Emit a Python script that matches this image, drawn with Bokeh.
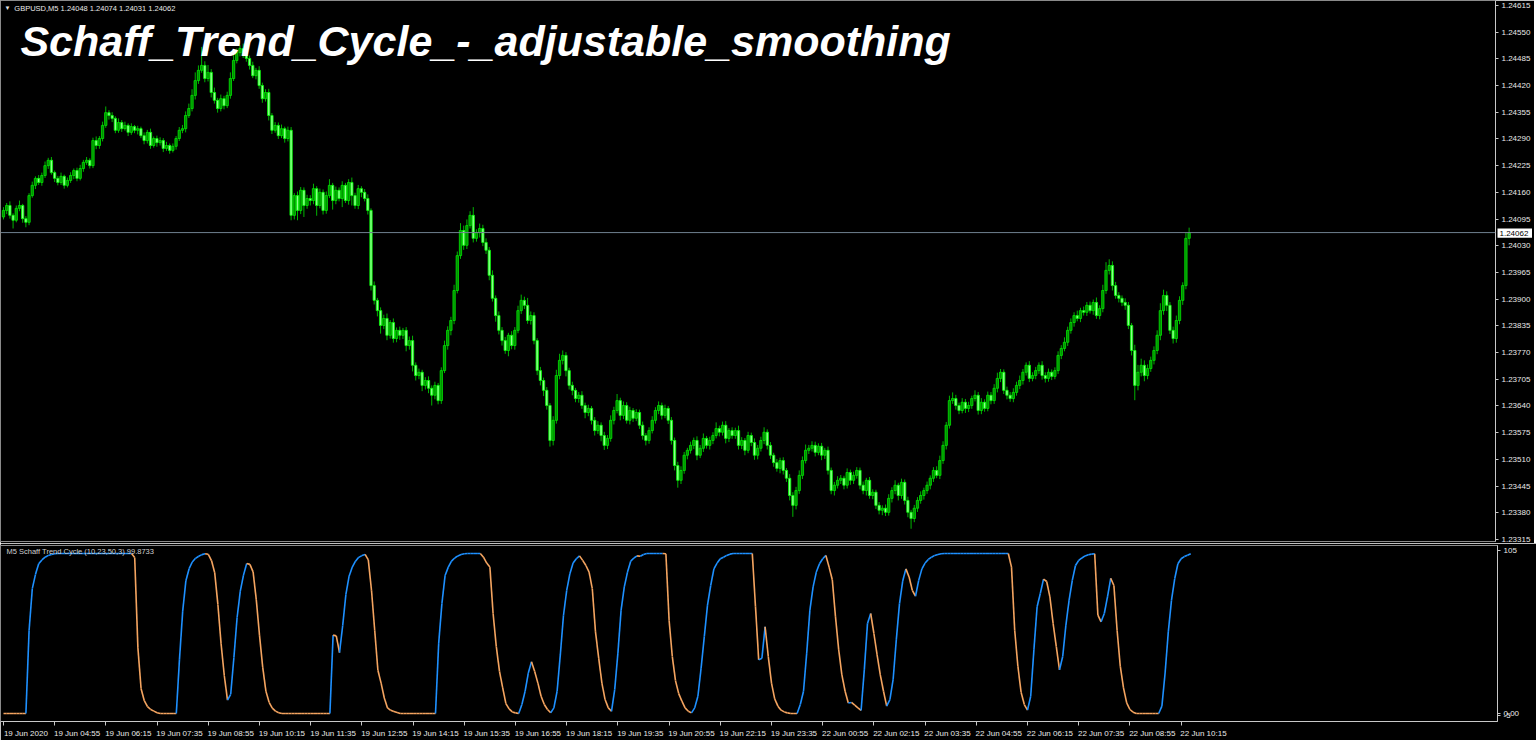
from bokeh.plotting import figure
from bokeh.layouts import column, row
from bokeh.models import Range1d, FixedTicker, NumeralTickFormatter, Label, Span
from bokeh.embed import file_html
from bokeh.resources import INLINE

# ---------------- data (prices as 1.2 + value/1e5) ----------------
OPEN = [
    4100, 4116, 4128, 4104, 4092, 4121, 4128, 4096,          # 0-7
    4087, 4152, 4177, 4194, 4184,                            # 8-12
    4201, 4225, 4238, 4208,                                  # 13-16
    4194, 4184, 4199, 4177,                                  # 17-20
    4189, 4201, 4213, 4194,                                  # 21-24
    4218, 4233, 4238,                                        # 25-27
    4225, 4286, 4274,                                        # 28-30
    4291, 4323, 4354,                                        # 31-33
    4347, 4340, 4311,                                        # 34-36
    4330, 4315, 4323, 4306, 4320, 4311,                      # 37-42
    4315, 4298, 4286, 4306, 4274, 4291,                      # 43-48
    4281, 4286, 4267, 4274, 4262,                            # 49-53
    4272, 4291, 4311,                                        # 54-56
    4315, 4347,                                              # 57-58
    4364, 4396, 4432,                                        # 59-61
    4457, 4469, 4437,                                        # 62-64
    4452, 4403, 4384, 4364, 4388, 4371,                      # 65-70
    4396, 4437,                                              # 71-72
    4481, 4500, 4510, 4493,                                  # 73-76
    4486, 4469, 4444,                                        # 77-79
    4457, 4420, 4388,                                        # 80-82
    4403, 4347, 4311,                                        # 83-85
    4323, 4298, 4315, 4291,                                  # 86-89
    4311,                                                    # 90
    4104, 4152, 4116, 4165, 4128,                            # 91-95
    4145, 4140, 4169, 4128, 4160, 4116, 4152, 4177,          # 96-103
    4140, 4165, 4145, 4177, 4140, 4184, 4152, 4128, 4169, 4160, 4145,  # 104-114
    4116,                                                    # 115
    3933, 3897,                                              # 116-117
    3872, 3836, 3853, 3812, 3843, 3804,                      # 118-123
    3824, 3812, 3824, 3787,                                  # 124-127
    3799, 3739, 3714, 3722, 3690,                            # 128-132
    3702, 3683, 3666, 3690,                                  # 133-136
    3653, 3726, 3787,                                        # 137-139
    3824, 3848, 3921,                                        # 140-142
    4006, 4067, 4031, 4079, 4104, 4048, 4062, 4072,          # 143-150
    4038, 4019, 3958,                                        # 151-153
    3902, 3860, 3824, 3799, 3775, 3812,                      # 154-159
    3787, 3824, 3872, 3897,                                  # 160-163
    3885, 3848,                                              # 164-165
    3860, 3799, 3726, 3702,                                  # 166-169
    3678, 3641, 3556, 3605, 3714, 3751, 3763, 3726,          # 170-177
    3690, 3678, 3658, 3666, 3641, 3624,                      # 178-183
    3634, 3605, 3580, 3593, 3568, 3544,                      # 184-189
    3561, 3605, 3629, 3653, 3617, 3641, 3605, 3629, 3610,    # 190-198
    3624, 3593, 3568, 3556, 3580,                            # 199-203
    3605, 3629, 3641, 3617, 3634,                            # 204-208
    3605, 3556, 3495, 3459, 3483,                            # 209-213
    3520, 3532, 3544, 3556, 3520, 3537, 3561, 3544,          # 214-221
    3556, 3568, 3585, 3576, 3593, 3561, 3580,                # 222-228
    3568, 3580, 3544, 3556, 3532, 3568, 3551, 3520,          # 229-236
    3537, 3556, 3576,                                        # 237-239
    3544, 3520, 3502, 3488, 3507, 3483,                      # 240-245
    3464, 3422, 3398,                                        # 246-248
    3434, 3471, 3507,                                        # 249-251
    3532, 3537, 3544, 3527, 3542, 3520,                      # 252-257
    3532, 3483, 3434, 3447,                                  # 258-261
    3459, 3464, 3447, 3478, 3459, 3471,                      # 262-267
    3483, 3447, 3434, 3459, 3422,                            # 268-272
    3430, 3398, 3386, 3391,                                  # 273-276
    3381, 3415, 3434, 3447, 3422,                            # 277-281
    3454, 3410, 3381, 3366,                                  # 282-285
    3391, 3410, 3422,                                        # 286-288
    3434, 3447, 3464, 3483,                                  # 289-292
    3471, 3507,                                              # 293-294
    3544, 3593,                                              # 295-296
    3653, 3658, 3641, 3629, 3649,                            # 297-301
    3634, 3641, 3658, 3666, 3629, 3649, 3634, 3666,          # 302-309
    3653, 3683, 3707,                                        # 310-312
    3722, 3678, 3666, 3658,                                  # 313-316
    3673, 3690, 3702, 3722, 3739, 3707,                      # 317-322
    3714, 3726, 3739,                                        # 323-325
    3714, 3707, 3722, 3712,                                  # 326-329
    3726, 3763, 3780,                                        # 330-332
    3795, 3824, 3843, 3860, 3853,                            # 333-337
    3872, 3868, 3885, 3872, 3892, 3860,                      # 338-343
    3877, 3921, 3970, 3982,                                  # 344-347
    3933, 3909, 3902, 3892,                                  # 348-351
    3885, 3836,                                              # 352-353
    3775, 3690, 3722, 3739, 3714, 3731,                      # 354-359
    3751, 3775,                                              # 360-361
    3812, 3872, 3909,                                        # 362-364
    3885, 3824,                                              # 365-366
    3804, 3848,                                              # 367-368
    3897, 3933, 4048,                                        # 369-371
]

CLOSE = [
    4116, 4128, 4104, 4092, 4121, 4128, 4096, 4087,
    4152, 4177, 4194, 4184, 4201,
    4225, 4238, 4208, 4194,
    4184, 4199, 4177, 4189,
    4201, 4213, 4194, 4218,
    4233, 4238, 4225,
    4286, 4274, 4291,
    4323, 4354, 4347,
    4340, 4311, 4330,
    4315, 4323, 4306, 4320, 4311, 4315,
    4298, 4286, 4306, 4274, 4291, 4281,
    4286, 4267, 4274, 4262, 4272,
    4291, 4311, 4315,
    4347, 4364,
    4396, 4432, 4457,
    4469, 4437, 4452,
    4403, 4384, 4364, 4388, 4371, 4396,
    4437, 4481,
    4500, 4510, 4493, 4486,
    4469, 4444, 4457,
    4420, 4388, 4403,
    4347, 4311, 4323,
    4298, 4315, 4291, 4311,
    4104,
    4152, 4116, 4165, 4128, 4145,
    4140, 4169, 4128, 4160, 4116, 4152, 4177, 4140,
    4165, 4145, 4177, 4140, 4184, 4152, 4128, 4169, 4160, 4145, 4116,
    3933,
    3897, 3872,
    3836, 3853, 3812, 3843, 3804, 3824,
    3812, 3824, 3787, 3799,
    3739, 3714, 3722, 3690, 3702,
    3683, 3666, 3690, 3653,
    3726, 3787, 3824,
    3848, 3921, 4006,
    4067, 4031, 4079, 4104, 4048, 4062, 4072, 4038,
    4019, 3958, 3902,
    3860, 3824, 3799, 3775, 3812, 3787,
    3824, 3872, 3897, 3885,
    3848, 3860,
    3799, 3726, 3702, 3678,
    3641, 3556, 3605, 3714, 3751, 3763, 3726, 3690,
    3678, 3658, 3666, 3641, 3624, 3634,
    3605, 3580, 3593, 3568, 3544, 3561,
    3605, 3629, 3653, 3617, 3641, 3605, 3629, 3610, 3624,
    3593, 3568, 3556, 3580, 3605,
    3629, 3641, 3617, 3634, 3605,
    3556, 3495, 3459, 3483, 3520,
    3532, 3544, 3556, 3520, 3537, 3561, 3544, 3556,
    3568, 3585, 3576, 3593, 3561, 3580, 3568,
    3580, 3544, 3556, 3532, 3568, 3551, 3520, 3537,
    3556, 3576, 3544,
    3520, 3502, 3488, 3507, 3483, 3464,
    3422, 3398, 3434,
    3471, 3507, 3532,
    3537, 3544, 3527, 3542, 3520, 3532,
    3483, 3434, 3447, 3459,
    3464, 3447, 3478, 3459, 3471, 3483,
    3447, 3434, 3459, 3422, 3430,
    3398, 3386, 3391, 3381,
    3415, 3434, 3447, 3422, 3454,
    3410, 3381, 3366, 3391,
    3410, 3422, 3434,
    3447, 3464, 3483, 3471,
    3507, 3544,
    3593, 3653,
    3658, 3641, 3629, 3649, 3634,
    3641, 3658, 3666, 3629, 3649, 3634, 3666, 3653,
    3683, 3707, 3722,
    3678, 3666, 3658, 3673,
    3690, 3702, 3722, 3739, 3707, 3714,
    3726, 3739, 3714,
    3707, 3722, 3712, 3726,
    3763, 3780, 3795,
    3824, 3843, 3860, 3853, 3872,
    3868, 3885, 3872, 3892, 3860, 3877,
    3921, 3970, 3982, 3933,
    3909, 3902, 3892, 3885,
    3836, 3775,
    3690, 3722, 3739, 3714, 3731, 3751,
    3775, 3812,
    3872, 3909, 3885,
    3824, 3804,
    3848, 3897,
    3933, 4048, 4062,
]

# wick length above the body / below the body (in 0.00001)
UP_WICK = [
    8, 6, 10, 5, 7, 12, 4, 6,
    6, 9, 5, 8, 7,
    10, 6, 8, 5,
    6, 9, 4, 7,
    8, 5, 7, 9,
    6, 8, 5,
    7, 10, 6,
    9, 15, 6,
    8, 5, 10,
    6, 9, 5, 8, 4, 7,
    5, 8, 6, 9, 5, 7,
    8, 6, 9, 5, 7,
    6, 8, 9,
    10, 12,
    15, 20, 12,
    45, 10, 18,
    8, 12, 6, 10, 7, 9,
    15, 20,
    10, 8, 12, 6,
    7, 9, 6,
    10, 7, 8,
    9, 6, 8,
    7, 10, 5, 9,
    8,
    6, 10, 8, 7, 9,
    8, 12, 6, 9, 7, 10, 15, 6,
    9, 7, 10, 6, 8, 12, 7, 9, 6, 8, 10,
    5,
    10, 6,
    8, 9, 12, 6, 10, 7,
    9, 6, 8, 10,
    12, 7, 9, 6, 8,
    10, 7, 9, 6,
    8, 12, 10,
    9, 14, 10,
    18, 12, 15, 10, 20, 8, 12, 9,
    10, 8, 12,
    7, 10, 8, 9, 6, 10,
    8, 12, 14, 9,
    18, 10,
    8, 6, 9, 7,
    8, 6, 10, 14, 16, 12, 8, 7,
    9, 6, 8, 10, 7, 9,
    6, 8, 10, 7, 9, 8,
    12, 9, 16, 7, 10, 8, 9, 6, 8,
    7, 9, 6, 8, 10,
    8, 10, 7, 9, 6,
    8, 7, 9, 10, 8,
    6, 9, 7, 10, 8, 12, 6, 9,
    8, 15, 7, 9, 10, 6, 8,
    7, 12, 8, 6, 9, 7, 10, 8,
    9, 12, 7,
    8, 6, 9, 7, 8, 6,
    10, 8, 9,
    12, 10, 14,
    8, 10, 9, 7, 8, 6,
    9, 7, 8, 10,
    8, 6, 10, 7, 9, 8,
    7, 9, 6, 8, 7,
    6, 8, 7, 9,
    10, 8, 12, 6, 9,
    7, 9, 6, 8,
    8, 10, 7,
    9, 7, 8, 10,
    12, 10,
    8, 12,
    15, 9, 7, 10, 8,
    9, 7, 12, 8, 10, 7, 9, 8,
    10, 14, 8,
    7, 9, 8, 10,
    9, 12, 8, 7, 10, 8,
    9, 7, 10,
    8, 9, 7, 8,
    10, 8, 12,
    9, 10, 8, 12, 7,
    10, 8, 9, 7, 12, 8,
    14, 20, 15, 10,
    9, 8, 7, 10,
    8, 6,
    14, 18, 16, 12, 10, 9,
    10, 12,
    18, 14, 10,
    8, 9,
    12, 10,
    8, 14, 12,
]

DN_WICK = [
    6, 9, 8, 20, 5, 7, 10, 12,
    7, 5, 9, 6, 8,
    6, 8, 5, 9,
    7, 6, 8, 5,
    6, 9, 7, 5,
    8, 6, 7,
    6, 9, 8,
    7, 6, 10,
    9, 7, 6,
    8, 5, 9, 6, 7, 10,
    6, 9, 7, 8, 5, 10,
    7, 9, 6, 8, 5,
    8, 6, 7,
    9, 6,
    7, 10, 8,
    6, 9, 7,
    12, 8, 10, 7, 9, 6,
    8, 6,
    7, 9, 6, 8,
    10, 6, 9,
    8, 10, 7,
    12, 9, 6,
    8, 6, 10, 7,
    12,
    10, 24, 9, 28, 8,
    12, 9, 25, 7, 10, 8, 6, 22,
    9, 7, 21, 6, 10, 24, 8, 9, 12, 7, 10,
    12,
    10, 14,
    20, 9, 12, 8, 10, 9,
    11, 9, 14, 10,
    15, 12, 9, 14, 10,
    12, 25, 10, 9,
    8, 6, 10,
    12, 9, 7,
    8, 11, 9, 7, 10, 8, 12, 9,
    9, 12, 8,
    15, 10, 12, 8, 14, 9,
    10, 7, 8, 9,
    8, 10,
    9, 11, 12, 14,
    10, 15, 12, 8, 9, 10, 14, 10,
    12, 9, 10, 8, 14, 9,
    10, 12, 8, 14, 11, 9,
    8, 10, 7, 12, 9, 8, 10, 9, 7,
    9, 10, 12, 8, 7,
    8, 9, 10, 7, 9,
    10, 12, 18, 9, 8,
    10, 8, 9, 12, 7, 9, 8, 10,
    9, 7, 10, 8, 12, 9, 8,
    8, 10, 9, 12, 7, 9, 11, 10,
    8, 9, 10,
    9, 10, 8, 12, 10, 9,
    12, 28, 10,
    8, 9, 7,
    9, 8, 10, 7, 12, 9,
    10, 9, 12, 8,
    9, 10, 8, 11, 9, 8,
    10, 9, 12, 8, 9,
    9, 10, 12, 9,
    8, 10, 9, 12, 8,
    10, 12, 25, 9,
    9, 8, 10,
    8, 10, 9, 7,
    9, 8,
    10, 8,
    8, 10, 9, 7, 11,
    9, 8, 7, 10, 9, 8, 7, 9,
    8, 10, 9,
    9, 10, 8, 9,
    8, 9, 10, 8, 9, 7,
    9, 8, 10,
    10, 8, 9, 7,
    8, 9, 7,
    9, 8, 10, 7, 9,
    8, 9, 7, 10, 8, 9,
    9, 8, 10, 12,
    8, 10, 9, 11,
    9, 12,
    36, 12, 10, 14, 9, 8,
    10, 9,
    12, 10, 14,
    9, 12,
    10, 9,
    11, 9, 17,
]

# Schaff Trend Cycle value for every bar
STC = [
    0, 0, 0, 0, 0, 0, 0, 0,                                   # 0-7
    52, 78, 87, 93.6, 96, 97.7, 98.8, 99.4, 99.8,             # 8-16
    100, 100, 100, 100, 100, 100, 100, 100, 100, 100, 100, 100,   # 17-28
    100, 100, 100, 100, 100, 100, 100, 100, 100, 100, 100, 100,   # 29-40
    97.5, 41, 15.5, 8, 4.3, 2.5, 1.5, 0.5,                    # 41-48
    0, 0, 0, 0, 0, 0,                                         # 49-54
    34, 64, 83, 90.5, 94.7, 97, 98.3, 99.3, 99.9,             # 55-63
    99.5, 95.6, 88, 68, 43.5, 23.6, 8.3,                      # 64-70
    12, 35, 60, 76.5, 86.5, 93.8, 93.2,                       # 71-77
    88.5, 71, 49, 29, 14, 7, 3.4, 1.5, 0.5,                   # 78-86
    0, 0, 0, 0, 0, 0, 0, 0, 0, 0, 0, 0, 0, 0, 0, 0,           # 87-102
    49, 48.5, 38,                                             # 103-105
    55, 74.5, 85.8, 91.5, 95.2, 97.6, 98.7, 99.4,             # 106-113
    96, 77, 52, 27,                                           # 114-117
    19, 9.7, 3.5, 2, 1.2, 0.6,                                # 118-123
    0, 0, 0, 0, 0, 0, 0, 0, 0, 0, 0, 0,                       # 124-135
    44, 68.7, 86.3, 91.5, 95.2, 97.2, 98.5, 99.4, 99.8,       # 136-144
    100, 100, 100, 100, 100,                                  # 145-149
    97.7, 94, 91.5, 62.5, 41.8, 26.3, 16, 6.2, 2.9, 1, 0.4, 0,  # 150-161
    5.6, 13.9, 25.3, 32.3,                                    # 162-165
    26.3, 19, 10.8, 5.6, 2.5, 0.5,                            # 166-171
    3.5, 13.9, 36.6, 61.4, 77, 87.4, 94, 96.7, 98.5,          # 172-180
    95.7, 92.5, 88.4, 78, 51, 34.6, 19, 8.7, 3.5, 1.4,        # 181-190
    14.9, 37.7, 64.6, 79.1, 88.4, 95.2, 97.2, 98.5,           # 191-198
    98.3, 99.4,                                               # 199-200
    100, 100, 100, 100, 100, 100,                             # 201-206
    99.8,                                                     # 207
    58.3, 35.6, 20.5, 12.4, 7.7, 3.5, 1.4, 0.4,               # 208-215
    3.5, 10.8, 28.4, 48, 67.7, 80, 90.4, 94, 96.7, 97.7, 98.8, 99.6,  # 216-227
    100, 100, 100, 100, 100, 100, 100,                        # 228-234
    66.7, 33.5,                                               # 235-236
    34.5, 54.2,                                               # 237-238
    35.6, 19, 9.1, 4.6, 2.1, 1, 0.4, 0, 0, 0,                 # 239-248
    5.6, 13.9, 37.7, 64.6, 79.1, 88.4, 93.6, 96.7, 98.8,      # 249-257
    91.5, 83.6, 60.4, 39.8, 24.2, 13.9, 6.6,                  # 258-264
    6.9,                                                      # 265
    5.2, 3.5, 1.9,                                            # 266-268
    27.3, 56.3, 62.5,                                         # 269-271
    50, 36.6, 24.2, 13.9, 4.6,                                # 272-276
    8.7, 21.1, 46, 68.7, 82.8, 90.4,                          # 277-282
    85.3, 77, 73.3,                                           # 283-285
    83.2, 90.4, 94, 96.3, 97.7, 98.8, 99.4, 99.8,             # 286-293
    100, 100, 100, 100, 100, 100, 100, 100, 100, 100, 100,    # 294-304
    100, 100, 100, 100, 100, 100, 100, 100, 100, 100,         # 305-314
    91.5, 52, 29.4, 13.3, 5.6, 2.1,                           # 315-320
    10.8, 39.8, 66.7, 75, 84,                                 # 321-325
    82.5, 72.9, 56.3, 41.8, 27.3,                             # 326-330
    35.6, 55.2, 70.8, 83.2, 92.5, 95.7, 97.2, 98.5, 99.2, 99.6, 99.8,  # 331-341
    61.5, 57.3,                                               # 342-343
    62.5, 72.9, 84.5,                                         # 344-346
    80, 52, 29.4, 16, 6.6, 2.5, 0.8,                          # 347-353
    0, 0, 0, 0, 0, 0, 0, 0,                                   # 354-361
    4.6, 25.3, 51, 70.8, 84.2, 93.6, 96.7, 98.1, 98.9, 99.87, # 362-371
]

PRICE_TICKS = [1.24615, 1.24550, 1.24485, 1.24420, 1.24355, 1.24290, 1.24225,
               1.24160, 1.24095, 1.24030, 1.23965, 1.23900, 1.23835, 1.23770,
               1.23705, 1.23640, 1.23575, 1.23510, 1.23445, 1.23380, 1.23315]

TIME_TICK_BARS = [0, 16, 32, 48, 64, 80, 96, 112, 128, 144, 160, 176, 192, 208,
                  224, 240, 256, 272, 288, 304, 320, 336, 352, 368]
TIME_LABELS = ["19 Jun 2020", "19 Jun 04:55", "19 Jun 06:15", "19 Jun 07:35",
               "19 Jun 08:55", "19 Jun 10:15", "19 Jun 11:35", "19 Jun 12:55",
               "19 Jun 14:15", "19 Jun 15:35", "19 Jun 16:55", "19 Jun 18:15",
               "19 Jun 19:35", "19 Jun 20:55", "19 Jun 22:15", "19 Jun 23:35",
               "22 Jun 00:55", "22 Jun 02:15", "22 Jun 03:35", "22 Jun 04:55",
               "22 Jun 06:15", "22 Jun 07:35", "22 Jun 08:55", "22 Jun 10:15"]

LAST_PRICE = 1.24062
SYMBOL_TEXT = "GBPUSD,M5  1.24048 1.24074 1.24031 1.24062"
IND_TEXT = "M5 Schaff Trend Cycle (10,23,50,3) 99.8733"
TITLE = "Schaff_Trend_Cycle_-_adjustable_smoothing"

# ---------------- derived ----------------
n = len(CLOSE)
xs = list(range(n))
o = [1.2 + v / 1e5 for v in OPEN]
c = [1.2 + v / 1e5 for v in CLOSE]
hi = [1.2 + (max(a, b) + u) / 1e5 for a, b, u in zip(OPEN, CLOSE, UP_WICK)]
lo = [1.2 + (min(a, b) - d) / 1e5 for a, b, d in zip(OPEN, CLOSE, DN_WICK)]
bull = [i for i in xs if CLOSE[i] >= OPEN[i]]
bear = [i for i in xs if CLOSE[i] < OPEN[i]]

FONT = "Liberation Sans"
AX_COL = "#c8c8c8"
TXT_COL = "#e8e8e8"
FRAME_COL = "#8a8a8a"

W, H_MAIN, H_IND = 1536, 543, 197
SCALE_W = 39
Y_TOP, Y_BOT = 1.24627, 1.23310
MAIN_FRAME_H = H_MAIN - 2

xr = Range1d(-0.9375, 466.875)

# ---------------- main price pane ----------------
p = figure(width=W, height=H_MAIN, x_range=xr, y_range=Range1d(Y_BOT, Y_TOP),
           x_axis_location=None, y_axis_location="right",
           output_backend="svg", toolbar_location=None,
           min_border_left=0, min_border_right=SCALE_W, min_border_top=0, min_border_bottom=2,
           background_fill_color="black", border_fill_color="black",
           outline_line_color=FRAME_COL)
p.grid.visible = False
ya = p.yaxis[0]
ya.ticker = FixedTicker(ticks=PRICE_TICKS)
ya.formatter = NumeralTickFormatter(format="0.00000")
ya.major_label_text_color = TXT_COL
ya.major_label_text_font = FONT
ya.major_label_text_font_size = "8px"
ya.axis_line_color = AX_COL
ya.major_tick_line_color = AX_COL
ya.major_tick_out = 3
ya.major_tick_in = 0
ya.minor_tick_line_color = None
ya.major_label_standoff = 3

p.add_layout(Span(location=LAST_PRICE, dimension="width", line_color="#6f8090", line_width=1))

p.segment(x0=xs, y0=lo, x1=xs, y1=hi, line_color="#00b400", line_width=1)
p.vbar(x=[i for i in bull], width=0.72,
       top=[c[i] for i in bull], bottom=[o[i] for i in bull],
       fill_color="#008f00", line_color="#00e600", line_width=0.8)
p.vbar(x=[i for i in bear], width=0.72,
       top=[o[i] for i in bear], bottom=[c[i] for i in bear],
       fill_color="#8cff8c", line_color="#00ff00", line_width=0.8)

p.add_layout(Label(x=0.3, y=1.24608, text="\u25bc", text_font=FONT, text_font_size="6px",
                   text_color=TXT_COL, text_baseline="middle"))
p.add_layout(Label(x=3.4, y=1.24608, text=SYMBOL_TEXT, text_font=FONT, text_font_size="7.5px",
                   text_color=TXT_COL, text_baseline="middle"))
p.add_layout(Label(x=5.3, y=1.245296, text=TITLE, text_font=FONT, text_font_size="43px",
                   text_font_style="bold italic", text_color="white", text_baseline="middle"))

# ---------------- last-price tag on the price scale ----------------
TAG_W, TAG_H = 35, 11
tag = figure(width=TAG_W, height=TAG_H, x_range=Range1d(0, 1), y_range=Range1d(0, 1),
             x_axis_location=None, y_axis_location=None,
             output_backend="svg", toolbar_location=None,
             min_border=0, background_fill_color="white", border_fill_color="white",
             outline_line_color=None)
tag.grid.visible = False
tag.add_layout(Label(x=0, y=0.5, text=f"{LAST_PRICE:.5f}", text_font=FONT, text_font_size="8px",
                     text_color="black", text_baseline="middle", x_offset=2))
tag_top = round((Y_TOP - LAST_PRICE) / (Y_TOP - Y_BOT) * MAIN_FRAME_H - TAG_H / 2)
tag.margin = (tag_top, 0, 0, -(SCALE_W - 2))

# ---------------- indicator pane ----------------
q = figure(width=W, height=H_IND, x_range=xr, y_range=Range1d(-5, 105),
           y_axis_location="right",
           output_backend="svg", toolbar_location=None,
           min_border_left=0, min_border_right=SCALE_W, min_border_top=2, min_border_bottom=18,
           background_fill_color="black", border_fill_color="black",
           outline_line_color=FRAME_COL)
q.grid.visible = False
qa = q.yaxis[0]
qa.ticker = FixedTicker(ticks=[102, 0, -1])
qa.major_label_overrides = {102: "105", 0: "0.00", -1: "-5"}
qa.major_label_text_color = TXT_COL
qa.major_label_text_font = FONT
qa.major_label_text_font_size = "8px"
qa.axis_line_color = AX_COL
qa.major_tick_line_color = AX_COL
qa.major_tick_out = 3
qa.major_tick_in = 0
qa.minor_tick_line_color = None
qa.major_label_standoff = 3

xa = q.xaxis[0]
label_pos = [t + 7 for t in TIME_TICK_BARS]
xa.ticker = FixedTicker(ticks=label_pos, minor_ticks=TIME_TICK_BARS)
xa.major_label_overrides = {pos: lab for pos, lab in zip(label_pos, TIME_LABELS)}
xa.major_label_text_color = TXT_COL
xa.major_label_text_font = FONT
xa.major_label_text_font_size = "8px"
xa.axis_line_color = AX_COL
xa.major_tick_line_color = None
xa.major_tick_out = 0
xa.major_tick_in = 0
xa.minor_tick_line_color = AX_COL
xa.minor_tick_out = 4
xa.minor_tick_in = 0
xa.major_label_standoff = 3

# colour each step by direction (blue rising, orange falling, keep state when flat)
x0s, y0s, x1s, y1s, cols = [], [], [], [], []
state = "#f4a460"
for i in range(1, n):
    if STC[i] > STC[i - 1]:
        state = "#1e90ff"
    elif STC[i] < STC[i - 1]:
        state = "#f4a460"
    x0s.append(i - 1); y0s.append(STC[i - 1]); x1s.append(i); y1s.append(STC[i]); cols.append(state)
q.segment(x0=x0s, y0=y0s, x1=x1s, y1=y1s, line_color=cols, line_width=1.6)

q.add_layout(Label(x=0.94, y=101.2, text=IND_TEXT, text_font=FONT, text_font_size="7.5px",
                   text_color="#d0d0d0", text_baseline="middle"))

layout = column(row(p, tag, spacing=0), q, spacing=0)
open("out.html", "w").write(file_html(layout, INLINE, title="Schaff Trend Cycle"))
